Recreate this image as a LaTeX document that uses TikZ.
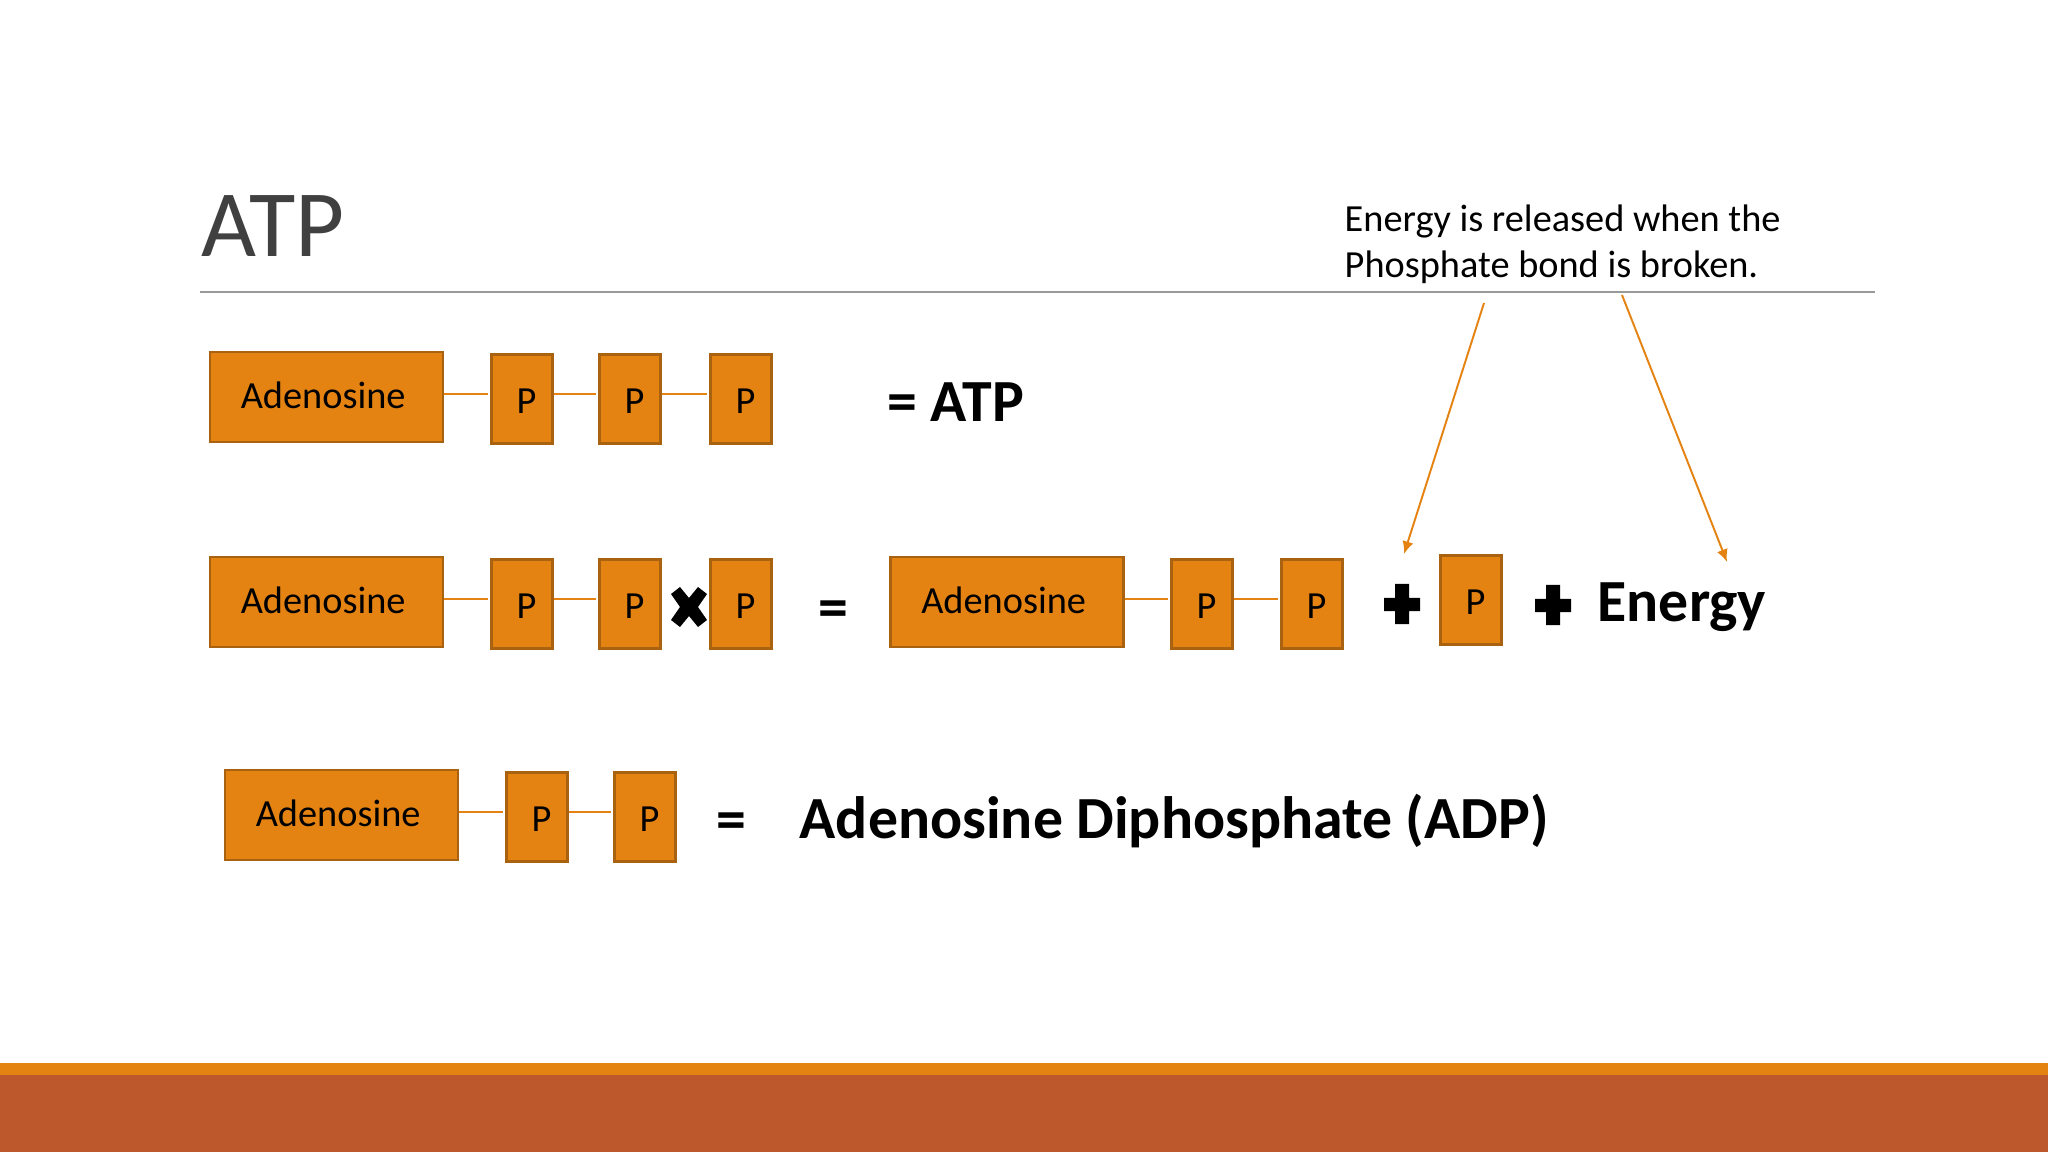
\documentclass[tikz,border=0pt]{standalone}
\usepackage{fontspec}
\setmainfont{Carlito}
\usetikzlibrary{arrows.meta}
\definecolor{boxorange}{HTML}{E48312}
\definecolor{boxedge}{HTML}{A9620F}
\definecolor{barrust}{HTML}{BD582C}
\definecolor{titlegray}{HTML}{404040}
\newcommand{\ptext}{\hspace{2.6pt}\rule{0pt}{8.4pt}P}
\newcommand{\adtext}{\rule[-1.1pt]{0pt}{1.1pt}Adenosine\hspace{1.9pt}\mbox{}}
\newcommand{\plussign}[1]{\fill[shift = {#1}] (-18, -6) -- (-7, -6) -- (-7, -20) -- (7, -20) -- (7, -6) -- (18, -6)
  -- (18, 7) -- (7, 7) -- (7, 20) -- (-7, 20) -- (-7, 7) -- (-18, 7) -- cycle;}
\tikzset{
  adbox/.style = {draw = boxedge, fill = boxorange, line width = 0.75pt, minimum width = 2.33cm,
    minimum height = 0.90cm, inner sep = 0pt, font = \fontsize{10.9}{13}\selectfont},
  pbox/.style = {draw = boxedge, fill = boxorange, line width = 0.75pt, minimum width = 0.61cm,
    minimum height = 0.89cm, inner sep = 0pt, font = \fontsize{10.9}{13}\selectfont},
  bond/.style = {color = boxorange, line width = 0.5pt, shorten > = 0.7pt},
  pointer/.style = {color = boxorange, line width = 0.55pt, -{Latex[length = 3.6pt, width = 3.2pt]}},
  bigtext/.style = {anchor = base west, inner sep = 0pt, font = \fontsize{17}{20}\selectfont\bfseries}
}
\begin{document}
\begin{tikzpicture}[x = 0.01cm, y = -0.01cm]
  \useasboundingbox (0, 0) rectangle (2048, 1152);
  % bottom bars
  \fill[barrust] (0, 1075) rectangle (2048, 1152);
  \fill[boxorange] (0, 1063) rectangle (2048, 1075);
  % title
  \node[anchor = base west, inner sep = 0pt, color = titlegray, font = \fontsize{27}{31}\selectfont] (title)
    at (201, 257) {ATP};
  \draw[color = black!40, line width = 0.5pt] (200, 292) -- (1875, 292);
  % note
  \node[anchor = west, inner sep = 0pt, align = left, font = \fontsize{10.9}{13}\selectfont] (note)
    at (1344, 244) {Energy is released when the\\Phosphate bond is broken.};
  % first row
  \node[adbox] (adA) at (326.5, 397) {\adtext};
  \node[pbox] (pA) at (522, 399) {\ptext};
  \node[pbox] (pB) at (630, 399) {\ptext};
  \node[pbox] (pC) at (741, 399) {\ptext};
  \coordinate (bondA) at ([yshift = 0.9pt]adA.east);
  \draw[bond] (bondA) -- (bondA -| pA.west);
  \draw[bond] (bondA -| pA.east) -- (bondA -| pB.west);
  \draw[bond] (bondA -| pB.east) -- (bondA -| pC.west);
  \node[bigtext] (atp) at (887, 422) {= ATP};
  % second row
  \node[adbox] (adB) at (326.5, 602) {\adtext};
  \node[pbox] (pD) at (522, 604) {\ptext};
  \node[pbox] (pE) at (630, 604) {\ptext};
  \node[pbox] (pF) at (741, 604) {\ptext};
  \coordinate (bondB) at ([yshift = 0.9pt]adB.east);
  \draw[bond] (bondB) -- (bondB -| pD.west);
  \draw[bond] (bondB -| pD.east) -- (bondB -| pE.west);
  \fill[shift = {(689, 607)}] (-18, -13) -- (-9, -20) -- (0, -9) -- (9, -20) -- (18, -13) -- (9, 0) -- (18, 13)
    -- (9, 20) -- (0, 9) -- (-9, 20) -- (-18, 13) -- (-9, 0) -- cycle;
  \node[bigtext] (eqA) at (818, 627) {=};
  \node[adbox] (adC) at (1007, 602) {\adtext};
  \node[pbox] (pG) at (1202, 604) {\ptext};
  \node[pbox] (pH) at (1312, 604) {\ptext};
  \coordinate (bondC) at ([yshift = 0.9pt]adC.east);
  \draw[bond] (bondC) -- (bondC -| pG.west);
  \draw[bond] (bondC -| pG.east) -- (bondC -| pH.west);
  \plussign{(1402, 604)}
  \node[pbox] (pI) at (1471, 600) {\ptext};
  \plussign{(1553, 605)}
  \node[bigtext] (energy) at (1597, 622) {Energy};
  % third row
  \node[adbox] (adD) at (341.5, 815) {\adtext};
  \node[pbox] (pJ) at (537, 817) {\ptext};
  \node[pbox] (pK) at (645, 817) {\ptext};
  \coordinate (bondD) at ([yshift = 0.9pt]adD.east);
  \draw[bond] (bondD) -- (bondD -| pJ.west);
  \draw[bond] (bondD -| pJ.east) -- (bondD -| pK.west);
  \node[bigtext] (eqB) at (716, 839) {=};
  \node[bigtext] (adp) at (799, 838) {Adenosine Diphosphate (ADP)};
  % arrows from the note
  \coordinate (startA) at (1484, 303);
  \coordinate (endA) at (1404, 554);
  \coordinate (startB) at (1622, 295);
  \coordinate (endB) at (1727, 562);
  \draw[pointer] (startA) -- (endA);
  \draw[pointer] (startB) -- (endB);
\end{tikzpicture}
\end{document}
